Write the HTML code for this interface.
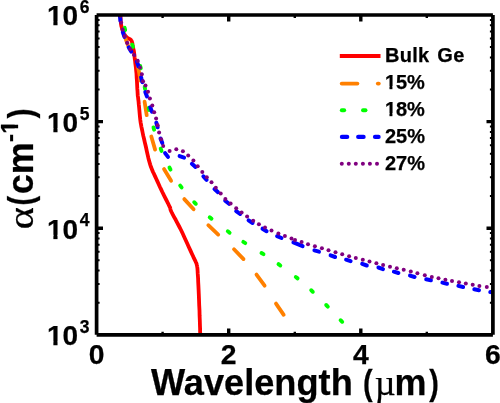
<!DOCTYPE html>
<html><head><meta charset="utf-8"><title>Absorption coefficient vs wavelength</title>
<style>
html,body{margin:0;padding:0;background:#fff;}
svg{display:block;}
text{font-family:"Liberation Sans",Arial,Helvetica,sans-serif;font-weight:bold;fill:#000;stroke:#000;stroke-width:0.25px;}
.sym{font-family:"Liberation Serif","DejaVu Serif",serif;font-weight:normal;}
</style></head>
<body>
<svg width="500" height="403" viewBox="0 0 500 403">
<rect width="500" height="403" fill="#fff"/>
<clipPath id="c"><rect x="96.6" y="15.0" width="396.29999999999995" height="319.8"/></clipPath>
<g clip-path="url(#c)">
<path d="M120.5,15.0 L120.5,16.0 L120.6,17.4 L120.7,19.1 L120.7,20.9 L120.9,22.6 L121.0,24.0 L121.2,25.2 L121.4,26.3 L121.7,27.3 L121.9,28.2 L122.2,29.1 L122.5,30.0 L122.8,30.8 L123.1,31.6 L123.4,32.4 L123.7,33.1 L124.1,33.8 L124.5,34.5 L124.9,35.2 L125.4,35.8 L125.9,36.4 L126.5,37.0 L127.0,37.5 L127.5,38.0 L128.0,38.4 L128.6,38.6 L129.1,38.8 L129.6,39.0 L130.1,39.2 L130.5,39.5 L130.8,39.8 L131.1,40.2 L131.4,40.5 L131.6,40.9 L131.8,41.4 L132.0,42.0 L132.2,42.7 L132.4,43.5 L132.5,44.3 L132.7,45.2 L132.8,46.1 L133.0,47.0 L133.2,47.8 L133.3,48.7 L133.5,49.5 L133.7,50.3 L133.9,51.1 L134.0,52.0 L134.1,52.8 L134.2,53.5 L134.3,54.2 L134.3,55.1 L134.5,56.1 L134.6,57.4 L134.8,59.1 L135.1,61.0 L135.3,63.2 L135.6,65.4 L135.9,67.7 L136.1,69.8 L136.3,71.9 L136.5,73.9 L136.6,76.0 L136.7,78.1 L136.9,80.1 L137.0,82.2 L137.1,84.3 L137.2,86.5 L137.3,88.7 L137.5,90.8 L137.6,92.8 L137.7,94.6 L137.8,96.0 L138.0,97.0 L138.1,97.9 L138.2,98.9 L138.4,100.2 L138.6,102.0 L138.8,104.5 L139.1,107.4 L139.4,110.7 L139.7,114.1 L140.0,117.2 L140.3,120.0 L140.6,122.3 L141.0,124.4 L141.3,126.3 L141.7,128.2 L142.1,130.0 L142.5,132.0 L142.9,134.0 L143.3,135.9 L143.8,137.9 L144.3,140.0 L144.8,142.3 L145.4,144.8 L146.1,147.8 L146.8,151.1 L147.6,154.6 L148.4,158.2 L149.3,161.5 L150.2,164.6 L151.1,167.3 L152.1,169.7 L153.0,172.0 L154.1,174.2 L155.1,176.4 L156.2,178.8 L157.4,181.4 L158.6,184.0 L159.8,186.7 L161.1,189.4 L162.3,192.0 L163.5,194.4 L164.6,196.7 L165.8,199.0 L166.9,201.2 L168.0,203.3 L168.9,205.2 L169.7,206.8 L170.2,207.9 L170.3,208.6 L170.4,209.1 L170.5,209.6 L170.8,210.5 L171.5,212.0 L172.6,214.2 L174.0,216.8 L175.7,219.8 L177.4,223.1 L179.2,226.5 L181.0,230.0 L182.8,233.8 L184.8,238.2 L186.9,242.7 L188.8,247.0 L190.6,250.9 L192.0,254.0 L193.1,256.3 L193.8,257.9 L194.4,259.1 L194.8,259.9 L195.2,260.7 L195.6,261.6 L196.0,262.5 L196.3,263.1 L196.5,263.7 L196.7,264.3 L196.8,264.9 L197.0,265.6 L197.1,266.3 L197.2,266.8 L197.3,267.4 L197.4,268.2 L197.5,269.3 L197.6,271.0 L197.7,273.2 L197.9,275.8 L198.1,278.7 L198.2,282.0 L198.4,285.7 L198.6,289.6 L198.8,294.2 L199.0,299.4 L199.2,305.1 L199.5,310.6 L199.6,315.7 L199.8,320.0 L199.9,323.5 L200.0,326.5 L200.1,329.1 L200.1,331.3 L200.2,333.1 L200.2,334.5" fill="none" stroke="#ff0000" stroke-width="3.8" stroke-linejoin="round"/>
<path d="M144.3,99.9 L144.1,98.8 L143.8,97.3 L143.4,95.6 L143.0,93.7 L142.6,91.8 L142.3,90.0 L142.0,88.3 L141.7,86.7 L141.4,85.0 L141.1,83.4 L140.8,81.7 L140.5,80.0 L140.2,78.3 L139.9,76.5 L139.5,74.7 L139.2,73.0 L138.9,71.3 L138.6,69.8 L138.3,68.5 L138.1,67.2 L137.8,66.1 L137.6,65.0 L137.3,64.0 L137.0,63.0 L136.7,62.0 L136.3,61.1 L136.0,60.1 L135.6,59.2 L135.2,58.4 L134.8,57.5 L134.4,56.6 L133.9,55.8 L133.5,55.0 L133.0,54.2 L132.5,53.4 L132.0,52.5 L131.5,51.6 L130.9,50.7 L130.4,49.8 L129.8,48.9 L129.3,48.0 L128.8,47.0 L128.4,46.0 L127.9,45.1 L127.6,44.1 L127.2,43.1 L126.8,42.1 L126.4,41.0 L126.0,39.9 L125.6,38.7 L125.2,37.6 L124.8,36.4 L124.4,35.2 L124.0,34.0 L123.6,32.9 L123.3,31.9 L122.9,30.8 L122.5,29.7 L122.2,28.5 L121.9,27.0 L121.6,25.2 L121.3,22.9 L121.0,20.6 L120.8,18.3 L120.6,16.4 L120.4,15.0" fill="none" stroke="#ff8000" stroke-width="3.8" stroke-linecap="round" stroke-dasharray="14.5 21.5" stroke-dashoffset="-19.6"/>
<line x1="144.6" y1="101.7" x2="146.7" y2="115.2" stroke="#ff8000" stroke-width="3.8" stroke-linecap="round"/>
<line x1="151.3" y1="136.5" x2="155.1" y2="149.6" stroke="#ff8000" stroke-width="3.8" stroke-linecap="round"/>
<line x1="164.0" y1="169.1" x2="171.1" y2="180.8" stroke="#ff8000" stroke-width="3.8" stroke-linecap="round"/>
<line x1="184.3" y1="199.1" x2="193.6" y2="209.3" stroke="#ff8000" stroke-width="3.8" stroke-linecap="round"/>
<line x1="208.3" y1="225.2" x2="218.2" y2="234.6" stroke="#ff8000" stroke-width="3.8" stroke-linecap="round"/>
<line x1="234.0" y1="249.3" x2="243.5" y2="259.1" stroke="#ff8000" stroke-width="3.8" stroke-linecap="round"/>
<line x1="256.5" y1="274.6" x2="264.6" y2="285.7" stroke="#ff8000" stroke-width="3.8" stroke-linecap="round"/>
<line x1="276.0" y1="303.6" x2="283.7" y2="314.8" stroke="#ff8000" stroke-width="3.8" stroke-linecap="round"/>
<line x1="124.6" y1="27.8" x2="125.2" y2="30.0" stroke="#00ff00" stroke-width="3.9" stroke-linecap="round"/>
<line x1="132.2" y1="44.7" x2="133.0" y2="46.9" stroke="#00ff00" stroke-width="3.9" stroke-linecap="round"/>
<line x1="140.2" y1="66.1" x2="140.8" y2="68.3" stroke="#00ff00" stroke-width="3.9" stroke-linecap="round"/>
<line x1="144.7" y1="86.9" x2="145.1" y2="89.1" stroke="#00ff00" stroke-width="3.9" stroke-linecap="round"/>
<line x1="148.7" y1="107.8" x2="149.1" y2="110.0" stroke="#00ff00" stroke-width="3.9" stroke-linecap="round"/>
<line x1="153.5" y1="127.5" x2="154.1" y2="129.7" stroke="#00ff00" stroke-width="3.9" stroke-linecap="round"/>
<line x1="160.7" y1="148.7" x2="161.5" y2="150.9" stroke="#00ff00" stroke-width="3.9" stroke-linecap="round"/>
<line x1="169.5" y1="167.6" x2="170.5" y2="169.6" stroke="#00ff00" stroke-width="3.9" stroke-linecap="round"/>
<line x1="180.2" y1="185.6" x2="181.6" y2="187.4" stroke="#00ff00" stroke-width="3.9" stroke-linecap="round"/>
<line x1="194.2" y1="202.2" x2="195.8" y2="203.8" stroke="#00ff00" stroke-width="3.9" stroke-linecap="round"/>
<line x1="209.7" y1="217.2" x2="211.5" y2="218.8" stroke="#00ff00" stroke-width="3.9" stroke-linecap="round"/>
<line x1="227.8" y1="231.3" x2="229.6" y2="232.7" stroke="#00ff00" stroke-width="3.9" stroke-linecap="round"/>
<line x1="243.3" y1="241.9" x2="245.3" y2="243.1" stroke="#00ff00" stroke-width="3.9" stroke-linecap="round"/>
<line x1="261.5" y1="253.0" x2="263.5" y2="254.2" stroke="#00ff00" stroke-width="3.9" stroke-linecap="round"/>
<line x1="278.5" y1="264.1" x2="280.3" y2="265.5" stroke="#00ff00" stroke-width="3.9" stroke-linecap="round"/>
<line x1="295.8" y1="277.0" x2="297.6" y2="278.4" stroke="#00ff00" stroke-width="3.9" stroke-linecap="round"/>
<line x1="311.2" y1="290.2" x2="312.8" y2="291.8" stroke="#00ff00" stroke-width="3.9" stroke-linecap="round"/>
<line x1="326.2" y1="305.0" x2="327.8" y2="306.6" stroke="#00ff00" stroke-width="3.9" stroke-linecap="round"/>
<line x1="340.6" y1="320.2" x2="342.2" y2="321.8" stroke="#00ff00" stroke-width="3.9" stroke-linecap="round"/>
<path d="M145.6,93.1 L145.4,92.3 L145.1,91.1 L144.7,89.7 L144.3,88.3 L143.9,86.9 L143.6,85.8 L143.3,84.9 L143.1,84.1 L142.8,83.4 L142.6,82.8 L142.4,82.1 L142.2,81.4 L142.0,80.7 L141.8,80.0 L141.6,79.3 L141.4,78.6 L141.2,77.8 L141.0,77.0 L140.8,76.2 L140.7,75.3 L140.5,74.4 L140.3,73.4 L140.1,72.5 L139.9,71.4 L139.6,70.2 L139.2,69.0 L138.8,67.7 L138.4,66.4 L138.1,65.1 L137.7,64.0 L137.4,63.0 L137.1,62.1 L136.8,61.3 L136.6,60.5 L136.3,59.7 L135.9,58.9 L135.5,58.1 L135.0,57.3 L134.5,56.6 L134.0,55.8 L133.5,55.1 L133.0,54.3 L132.5,53.5 L132.0,52.7 L131.4,51.8 L130.9,51.0 L130.4,50.2 L130.0,49.5 L129.6,48.9 L129.3,48.4 L129.1,47.9 L128.8,47.4 L128.5,46.8 L128.2,46.2 L127.8,45.5 L127.5,44.7 L127.1,43.8 L126.7,42.9 L126.3,42.0 L125.9,41.0 L125.5,39.9 L125.1,38.8 L124.7,37.6 L124.3,36.4 L123.9,35.2 L123.5,34.0 L123.1,32.8 L122.7,31.6 L122.4,30.5 L122.0,29.3 L121.7,28.1 L121.4,27.0 L121.2,25.9 L121.0,24.8 L120.8,23.7 L120.7,22.6 L120.5,21.5 L120.4,20.5 L120.3,19.5 L120.2,18.4 L120.1,17.3 L120.0,16.4 L119.9,15.6 L119.9,15.0" fill="none" stroke="#0000ff" stroke-width="4" stroke-linecap="round" stroke-dasharray="5 11.4" stroke-dashoffset="-11.4"/>
<line x1="145.3" y1="92.1" x2="147.0" y2="96.5" stroke="#0000ff" stroke-width="4.0" stroke-linecap="round"/>
<line x1="150.2" y1="107.3" x2="152.0" y2="111.7" stroke="#0000ff" stroke-width="4.0" stroke-linecap="round"/>
<line x1="156.3" y1="122.7" x2="157.7" y2="127.3" stroke="#0000ff" stroke-width="4.0" stroke-linecap="round"/>
<line x1="160.5" y1="138.6" x2="162.3" y2="143.1" stroke="#0000ff" stroke-width="4.0" stroke-linecap="round"/>
<line x1="165.1" y1="153.1" x2="168.0" y2="156.9" stroke="#0000ff" stroke-width="4.0" stroke-linecap="round"/>
<line x1="179.6" y1="156.1" x2="184.1" y2="157.6" stroke="#0000ff" stroke-width="4.0" stroke-linecap="round"/>
<line x1="191.9" y1="163.8" x2="195.5" y2="167.0" stroke="#0000ff" stroke-width="4.0" stroke-linecap="round"/>
<line x1="203.4" y1="176.3" x2="206.6" y2="179.8" stroke="#0000ff" stroke-width="4.0" stroke-linecap="round"/>
<line x1="214.5" y1="189.0" x2="218.0" y2="192.2" stroke="#0000ff" stroke-width="4.0" stroke-linecap="round"/>
<line x1="225.2" y1="200.8" x2="229.0" y2="203.8" stroke="#0000ff" stroke-width="4.0" stroke-linecap="round"/>
<line x1="236.2" y1="211.1" x2="240.1" y2="214.0" stroke="#0000ff" stroke-width="4.0" stroke-linecap="round"/>
<line x1="248.6" y1="220.3" x2="252.6" y2="223.0" stroke="#0000ff" stroke-width="4.0" stroke-linecap="round"/>
<line x1="262.5" y1="228.7" x2="266.6" y2="231.2" stroke="#0000ff" stroke-width="4.0" stroke-linecap="round"/>
<line x1="277.1" y1="236.2" x2="281.5" y2="238.0" stroke="#0000ff" stroke-width="4.0" stroke-linecap="round"/>
<line x1="293.4" y1="242.4" x2="302.6" y2="246.2" stroke="#0000ff" stroke-width="4.0" stroke-linecap="round"/>
<line x1="314.4" y1="250.4" x2="319.0" y2="251.7" stroke="#0000ff" stroke-width="4.0" stroke-linecap="round"/>
<line x1="330.6" y1="255.4" x2="335.1" y2="257.0" stroke="#0000ff" stroke-width="4.0" stroke-linecap="round"/>
<line x1="346.1" y1="259.7" x2="350.6" y2="261.2" stroke="#0000ff" stroke-width="4.0" stroke-linecap="round"/>
<line x1="362.2" y1="263.9" x2="366.8" y2="265.5" stroke="#0000ff" stroke-width="4.0" stroke-linecap="round"/>
<line x1="378.4" y1="267.5" x2="383.0" y2="269.1" stroke="#0000ff" stroke-width="4.0" stroke-linecap="round"/>
<line x1="393.9" y1="271.7" x2="398.4" y2="273.0" stroke="#0000ff" stroke-width="4.0" stroke-linecap="round"/>
<line x1="410.0" y1="275.6" x2="414.6" y2="277.0" stroke="#0000ff" stroke-width="4.0" stroke-linecap="round"/>
<line x1="426.2" y1="279.3" x2="430.9" y2="280.3" stroke="#0000ff" stroke-width="4.0" stroke-linecap="round"/>
<line x1="442.4" y1="282.6" x2="447.0" y2="283.7" stroke="#0000ff" stroke-width="4.0" stroke-linecap="round"/>
<line x1="458.4" y1="285.9" x2="463.1" y2="287.0" stroke="#0000ff" stroke-width="4.0" stroke-linecap="round"/>
<line x1="474.3" y1="289.3" x2="479.0" y2="290.2" stroke="#0000ff" stroke-width="4.0" stroke-linecap="round"/>
<line x1="490.3" y1="292.0" x2="492.5" y2="292.4" stroke="#0000ff" stroke-width="4.0" stroke-linecap="round"/>
<path d="M143.0,81.2 L142.9,80.7 L142.8,80.0 L142.7,79.2 L142.6,78.4 L142.5,77.5 L142.3,76.6 L142.1,75.7 L142.0,74.9 L141.8,74.0 L141.6,73.0 L141.4,72.0 L141.1,71.0 L140.8,69.8 L140.3,68.6 L139.9,67.3 L139.4,66.0 L139.0,64.7 L138.6,63.6 L138.3,62.6 L138.0,61.7 L137.7,60.9 L137.4,60.1 L137.1,59.4 L136.7,58.6 L136.2,57.8 L135.7,57.0 L135.2,56.3 L134.6,55.5 L134.0,54.8 L133.5,54.0 L133.0,53.2 L132.4,52.4 L131.9,51.6 L131.4,50.8 L130.9,50.0 L130.5,49.3 L130.1,48.7 L129.8,48.2 L129.6,47.8 L129.3,47.3 L129.0,46.8 L128.7,46.2 L128.3,45.5 L128.0,44.7 L127.6,43.8 L127.2,42.9 L126.8,42.0 L126.4,41.0 L126.0,39.9 L125.6,38.8 L125.2,37.6 L124.8,36.4 L124.4,35.2 L124.0,34.0 L123.6,32.8 L123.2,31.6 L122.9,30.5 L122.5,29.3 L122.2,28.1 L121.9,27.0 L121.7,25.9 L121.5,24.8 L121.3,23.7 L121.2,22.6 L121.0,21.5 L120.9,20.5 L120.8,19.5 L120.7,18.4 L120.6,17.3 L120.5,16.4 L120.4,15.6 L120.4,15.0" fill="none" stroke="#800080" stroke-width="4" stroke-linecap="round" stroke-dasharray="0.01 7" stroke-dashoffset="-7"/>
<circle cx="143.0" cy="81.2" r="2" fill="#800080"/>
<circle cx="145.5" cy="85.6" r="2" fill="#800080"/>
<circle cx="148.0" cy="91.8" r="2" fill="#800080"/>
<circle cx="149.9" cy="98.6" r="2" fill="#800080"/>
<circle cx="152.3" cy="105.4" r="2" fill="#800080"/>
<circle cx="154.2" cy="112.3" r="2" fill="#800080"/>
<circle cx="156.1" cy="118.5" r="2" fill="#800080"/>
<circle cx="157.6" cy="125.2" r="2" fill="#800080"/>
<circle cx="159.1" cy="132.6" r="2" fill="#800080"/>
<circle cx="161.1" cy="139.3" r="2" fill="#800080"/>
<circle cx="163.2" cy="146.0" r="2" fill="#800080"/>
<circle cx="169.6" cy="151.0" r="2" fill="#800080"/>
<circle cx="176.3" cy="149.3" r="2" fill="#800080"/>
<circle cx="182.9" cy="151.3" r="2" fill="#800080"/>
<circle cx="188.2" cy="155.4" r="2" fill="#800080"/>
<circle cx="193.4" cy="160.5" r="2" fill="#800080"/>
<circle cx="197.7" cy="166.3" r="2" fill="#800080"/>
<circle cx="202.3" cy="171.9" r="2" fill="#800080"/>
<circle cx="206.8" cy="177.2" r="2" fill="#800080"/>
<circle cx="211.5" cy="182.3" r="2" fill="#800080"/>
<circle cx="215.8" cy="187.7" r="2" fill="#800080"/>
<circle cx="220.7" cy="193.5" r="2" fill="#800080"/>
<circle cx="225.4" cy="198.9" r="2" fill="#800080"/>
<circle cx="230.6" cy="203.4" r="2" fill="#800080"/>
<circle cx="236.2" cy="208.3" r="2" fill="#800080"/>
<circle cx="241.6" cy="212.5" r="2" fill="#800080"/>
<circle cx="247.1" cy="216.5" r="2" fill="#800080"/>
<circle cx="253.2" cy="220.8" r="2" fill="#800080"/>
<circle cx="258.9" cy="224.3" r="2" fill="#800080"/>
<circle cx="265.0" cy="227.4" r="2" fill="#800080"/>
<circle cx="271.5" cy="230.4" r="2" fill="#800080"/>
<circle cx="278.4" cy="233.5" r="2" fill="#800080"/>
<circle cx="284.9" cy="236.1" r="2" fill="#800080"/>
<circle cx="291.5" cy="238.6" r="2" fill="#800080"/>
<circle cx="295.0" cy="240.0" r="2" fill="#800080"/>
<circle cx="301.6" cy="242.0" r="2" fill="#800080"/>
<circle cx="308.0" cy="244.2" r="2" fill="#800080"/>
<circle cx="314.9" cy="246.3" r="2" fill="#800080"/>
<circle cx="321.9" cy="248.2" r="2" fill="#800080"/>
<circle cx="328.5" cy="250.3" r="2" fill="#800080"/>
<circle cx="335.5" cy="252.3" r="2" fill="#800080"/>
<circle cx="342.2" cy="254.2" r="2" fill="#800080"/>
<circle cx="349.1" cy="256.3" r="2" fill="#800080"/>
<circle cx="355.8" cy="258.0" r="2" fill="#800080"/>
<circle cx="362.8" cy="259.7" r="2" fill="#800080"/>
<circle cx="369.5" cy="261.4" r="2" fill="#800080"/>
<circle cx="376.4" cy="263.3" r="2" fill="#800080"/>
<circle cx="383.1" cy="265.1" r="2" fill="#800080"/>
<circle cx="390.0" cy="266.7" r="2" fill="#800080"/>
<circle cx="396.8" cy="268.3" r="2" fill="#800080"/>
<circle cx="403.7" cy="269.8" r="2" fill="#800080"/>
<circle cx="410.8" cy="271.6" r="2" fill="#800080"/>
<circle cx="417.4" cy="273.2" r="2" fill="#800080"/>
<circle cx="424.8" cy="275.3" r="2" fill="#800080"/>
<circle cx="431.8" cy="276.9" r="2" fill="#800080"/>
<circle cx="438.5" cy="278.2" r="2" fill="#800080"/>
<circle cx="445.4" cy="279.8" r="2" fill="#800080"/>
<circle cx="452.0" cy="281.0" r="2" fill="#800080"/>
<circle cx="459.0" cy="282.3" r="2" fill="#800080"/>
<circle cx="465.8" cy="283.6" r="2" fill="#800080"/>
<circle cx="472.7" cy="284.8" r="2" fill="#800080"/>
<circle cx="479.4" cy="286.0" r="2" fill="#800080"/>
<circle cx="486.8" cy="286.9" r="2" fill="#800080"/>
</g>
<g>
<path d="M96.6,15.0 H492.9 M96.6,334.8 H492.9 M96.6,15.0 V334.8 M492.9,15.0 V334.8" fill="none" stroke="#000" stroke-width="3.7"/>
<path d="M228.7,334.8 v-6.4 M228.7,15.0 v6.4" stroke="#000" stroke-width="3.4"/>
<path d="M360.8,334.8 v-6.4 M360.8,15.0 v6.4" stroke="#000" stroke-width="3.4"/>
<path d="M162.6,334.8 v-3.0 M162.6,15.0 v3.0" stroke="#000" stroke-width="2.4"/>
<path d="M294.8,334.8 v-3.0 M294.8,15.0 v3.0" stroke="#000" stroke-width="2.4"/>
<path d="M426.8,334.8 v-3.0 M426.8,15.0 v3.0" stroke="#000" stroke-width="2.4"/>
<path d="M96.6,228.2 h6.4 M492.9,228.2 h-6.4" stroke="#000" stroke-width="3.4"/>
<path d="M96.6,121.6 h6.4 M492.9,121.6 h-6.4" stroke="#000" stroke-width="3.4"/>
<path d="M96.6,302.7 h3.0 M492.9,302.7 h-3.0" stroke="#000" stroke-width="2"/>
<path d="M96.6,283.9 h3.0 M492.9,283.9 h-3.0" stroke="#000" stroke-width="2"/>
<path d="M96.6,270.6 h3.0 M492.9,270.6 h-3.0" stroke="#000" stroke-width="2"/>
<path d="M96.6,260.3 h3.0 M492.9,260.3 h-3.0" stroke="#000" stroke-width="2"/>
<path d="M96.6,251.8 h3.0 M492.9,251.8 h-3.0" stroke="#000" stroke-width="2"/>
<path d="M96.6,244.7 h3.0 M492.9,244.7 h-3.0" stroke="#000" stroke-width="2"/>
<path d="M96.6,238.5 h3.0 M492.9,238.5 h-3.0" stroke="#000" stroke-width="2"/>
<path d="M96.6,233.1 h3.0 M492.9,233.1 h-3.0" stroke="#000" stroke-width="2"/>
<path d="M96.6,196.1 h3.0 M492.9,196.1 h-3.0" stroke="#000" stroke-width="2"/>
<path d="M96.6,177.3 h3.0 M492.9,177.3 h-3.0" stroke="#000" stroke-width="2"/>
<path d="M96.6,164.0 h3.0 M492.9,164.0 h-3.0" stroke="#000" stroke-width="2"/>
<path d="M96.6,153.7 h3.0 M492.9,153.7 h-3.0" stroke="#000" stroke-width="2"/>
<path d="M96.6,145.2 h3.0 M492.9,145.2 h-3.0" stroke="#000" stroke-width="2"/>
<path d="M96.6,138.1 h3.0 M492.9,138.1 h-3.0" stroke="#000" stroke-width="2"/>
<path d="M96.6,131.9 h3.0 M492.9,131.9 h-3.0" stroke="#000" stroke-width="2"/>
<path d="M96.6,126.5 h3.0 M492.9,126.5 h-3.0" stroke="#000" stroke-width="2"/>
<path d="M96.6,89.5 h3.0 M492.9,89.5 h-3.0" stroke="#000" stroke-width="2"/>
<path d="M96.6,70.7 h3.0 M492.9,70.7 h-3.0" stroke="#000" stroke-width="2"/>
<path d="M96.6,57.4 h3.0 M492.9,57.4 h-3.0" stroke="#000" stroke-width="2"/>
<path d="M96.6,47.1 h3.0 M492.9,47.1 h-3.0" stroke="#000" stroke-width="2"/>
<path d="M96.6,38.6 h3.0 M492.9,38.6 h-3.0" stroke="#000" stroke-width="2"/>
<path d="M96.6,31.5 h3.0 M492.9,31.5 h-3.0" stroke="#000" stroke-width="2"/>
<path d="M96.6,25.3 h3.0 M492.9,25.3 h-3.0" stroke="#000" stroke-width="2"/>
<path d="M96.6,19.9 h3.0 M492.9,19.9 h-3.0" stroke="#000" stroke-width="2"/>
</g>
<g>
<line x1="339.8" y1="56.0" x2="380.5" y2="56.0" stroke="#ff0000" stroke-width="3.8"/>
<line x1="341.7" y1="83.6" x2="357.4" y2="83.6" stroke="#ff8000" stroke-width="3.8" stroke-linecap="round"/>
<line x1="377.8" y1="83.6" x2="378.8" y2="83.6" stroke="#ff8000" stroke-width="3.8" stroke-linecap="round"/>
<line x1="341.8" y1="110.2" x2="344.2" y2="110.2" stroke="#00ff00" stroke-width="3.9" stroke-linecap="round"/>
<line x1="363.0" y1="110.2" x2="365.5" y2="110.2" stroke="#00ff00" stroke-width="3.9" stroke-linecap="round"/>
<line x1="341.9" y1="136.9" x2="347.2" y2="136.9" stroke="#0000ff" stroke-width="4.2" stroke-linecap="round"/>
<line x1="358.2" y1="136.9" x2="363.6" y2="136.9" stroke="#0000ff" stroke-width="4.2" stroke-linecap="round"/>
<line x1="375.0" y1="136.9" x2="378.6" y2="136.9" stroke="#0000ff" stroke-width="4.2" stroke-linecap="round"/>
<circle cx="341.8" cy="163.7" r="2" fill="#800080"/>
<circle cx="348.8" cy="163.7" r="2" fill="#800080"/>
<circle cx="355.8" cy="163.7" r="2" fill="#800080"/>
<circle cx="362.9" cy="163.7" r="2" fill="#800080"/>
<circle cx="369.9" cy="163.7" r="2" fill="#800080"/>
<circle cx="377.0" cy="163.7" r="2" fill="#800080"/>
</g>
<defs>
<clipPath id="k0"><path d="M46.00,322.80 H64.36 V341.42 H57.53 V346.20 H53.38 V341.42 H46.00 Z"/></clipPath><clipPath id="k1"><path d="M46.00,216.20 H64.36 V234.82 H57.53 V239.60 H53.38 V234.82 H46.00 Z"/></clipPath><clipPath id="k2"><path d="M46.00,109.60 H64.36 V128.22 H57.53 V133.00 H53.38 V128.22 H46.00 Z"/></clipPath><clipPath id="k3"><path d="M46.00,3.00 H64.36 V21.62 H57.53 V26.40 H53.38 V21.62 H46.00 Z"/></clipPath><clipPath id="k4"><path d="M95.20,-34.20 H111.08 V-18.24 H105.22 V-14.00 H101.67 V-18.24 H95.20 Z"/></clipPath><clipPath id="k5"><path d="M383.90,72.65 H397.30 V85.95 H392.42 V89.65 H389.46 V85.95 H383.90 Z"/></clipPath><clipPath id="k6"><path d="M383.90,99.70 H397.30 V113.00 H392.42 V116.70 H389.46 V113.00 H383.90 Z"/></clipPath>
</defs>
<g>
<text x="47.0" y="345.2" font-size="28" clip-path="url(#k0)">1</text>
<text x="62.6" y="345.2" font-size="28">0</text>
<text x="79.7" y="333.0" font-size="17.5">3</text>
<text x="47.0" y="238.6" font-size="28" clip-path="url(#k1)">1</text>
<text x="62.6" y="238.6" font-size="28">0</text>
<text x="79.7" y="226.4" font-size="17.5">4</text>
<text x="47.0" y="132.0" font-size="28" clip-path="url(#k2)">1</text>
<text x="62.6" y="132.0" font-size="28">0</text>
<text x="79.7" y="119.8" font-size="17.5">5</text>
<text x="47.0" y="25.4" font-size="28" clip-path="url(#k3)">1</text>
<text x="62.6" y="25.4" font-size="28">0</text>
<text x="79.7" y="13.2" font-size="17.5">6</text>
<text x="96.6" y="364.1" font-size="28.3" text-anchor="middle">0</text>
<text x="228.7" y="364.1" font-size="28.3" text-anchor="middle">2</text>
<text x="360.8" y="364.1" font-size="28.3" text-anchor="middle">4</text>
<text x="492.9" y="364.1" font-size="28.3" text-anchor="middle">6</text>
<text x="151" y="394.5" font-size="36.2">Wavelength</text>
<text transform="translate(363.0,394.5) scale(0.80,1)" font-size="36">(</text>
<text x="374.8" y="394.5" font-size="36" class="sym" stroke="#000" stroke-width="0.7">µ</text>
<text x="394.6" y="394.5" font-size="36">m</text>
<text transform="translate(429.3,394.5) scale(0.80,1)" font-size="36">)</text>
<g transform="translate(33,230) rotate(-90)"><text transform="translate(0.6,0) scale(1.19,1)" font-size="36" class="sym" stroke="#000" stroke-width="0.5">α</text><text transform="translate(24.4,0.0) scale(0.80,1)" font-size="36">(</text><text x="35.8" y="0" font-size="36">cm</text><text x="87.9" y="-15" font-size="24">-</text><text x="96.2" y="-15.0" font-size="24" clip-path="url(#k4)">1</text><text transform="translate(111.4,0.0) scale(0.84,1)" font-size="36">)</text></g>
<text x="384.9" y="61.6" font-size="20" letter-spacing="0.33" word-spacing="1.9">Bulk Ge</text>
<text x="384.9" y="88.7" font-size="20" clip-path="url(#k5)">1</text>
<text x="396.0" y="88.7" font-size="20">5%</text>
<text x="384.9" y="115.7" font-size="20" clip-path="url(#k6)">1</text>
<text x="396.0" y="115.7" font-size="20">8%</text>
<text x="384.9" y="142.8" font-size="20">25%</text>
<text x="384.9" y="169.8" font-size="20">27%</text>
</g>
</svg>
</body></html>
